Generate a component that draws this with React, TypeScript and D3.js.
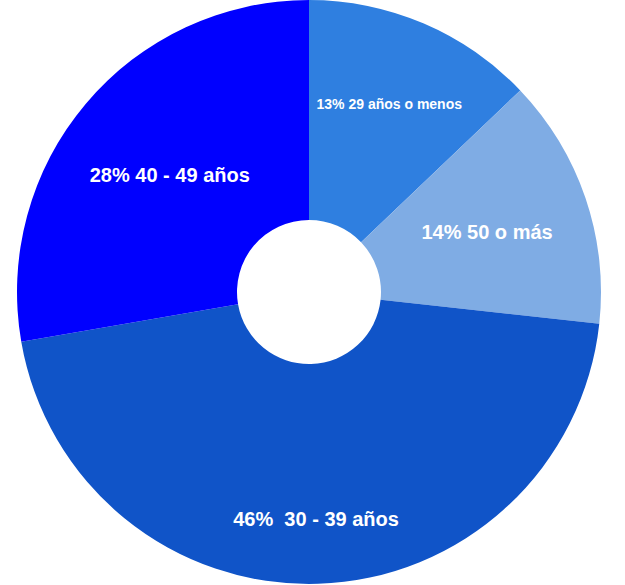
import React, { useRef, useEffect } from 'react';
import * as d3 from 'd3';

const labels = ['29 años o menos', '50 o más', ' 30 - 39 años', '40 - 49 años'];
const values = [13, 14, 46, 28];
const colors = ['#2f7fe0', '#7facE4', '#1054c8', '#0000ff'];
// Label placement (distance from centre, font size) per slice
const labelRadius = [204, 188, 227, 182];
const labelSize = [14, 20, 20, 20];

const App: React.FC = () => {
  const svgRef = useRef<SVGSVGElement | null>(null);

  useEffect(() => {
    if (!svgRef.current) return;
    document.body.style.margin = '0';
    d3.select(svgRef.current).selectAll('*').remove();

    const width = 625;
    const height = 585;
    const cx = 309;
    const cy = 292;
    const outer = 292;
    const inner = 72;

    const svg = d3
      .select(svgRef.current)
      .attr('width', width)
      .attr('height', height);

    const g = svg.append('g').attr('transform', `translate(${cx},${cy})`);

    const pie = d3
      .pie<number>()
      .sort(null)
      .value((d) => d);

    const arcs = pie(values);

    const arc = d3
      .arc<d3.PieArcDatum<number>>()
      .innerRadius(inner)
      .outerRadius(outer);

    g.selectAll('path')
      .data(arcs)
      .join('path')
      .attr('d', arc)
      .attr('fill', (d, i) => colors[i]);

    g.selectAll('text')
      .data(arcs)
      .join('text')
      .attr('transform', (d, i) => {
        const a = (d.startAngle + d.endAngle) / 2;
        const r = labelRadius[i];
        return `translate(${Math.sin(a) * r},${-Math.cos(a) * r})`;
      })
      .attr('text-anchor', 'middle')
      .attr('dominant-baseline', 'central')
      .attr('fill', '#fff')
      .attr('font-family', 'Liberation Sans, Arial, sans-serif')
      .attr('font-weight', 'bold')
      .attr('font-size', (d, i) => labelSize[i])
      .style('white-space', 'pre')
      .text((d, i) => `${values[i]}% ${labels[i]}`);
  }, []);

  return <svg ref={svgRef}></svg>;
};

export default App;
